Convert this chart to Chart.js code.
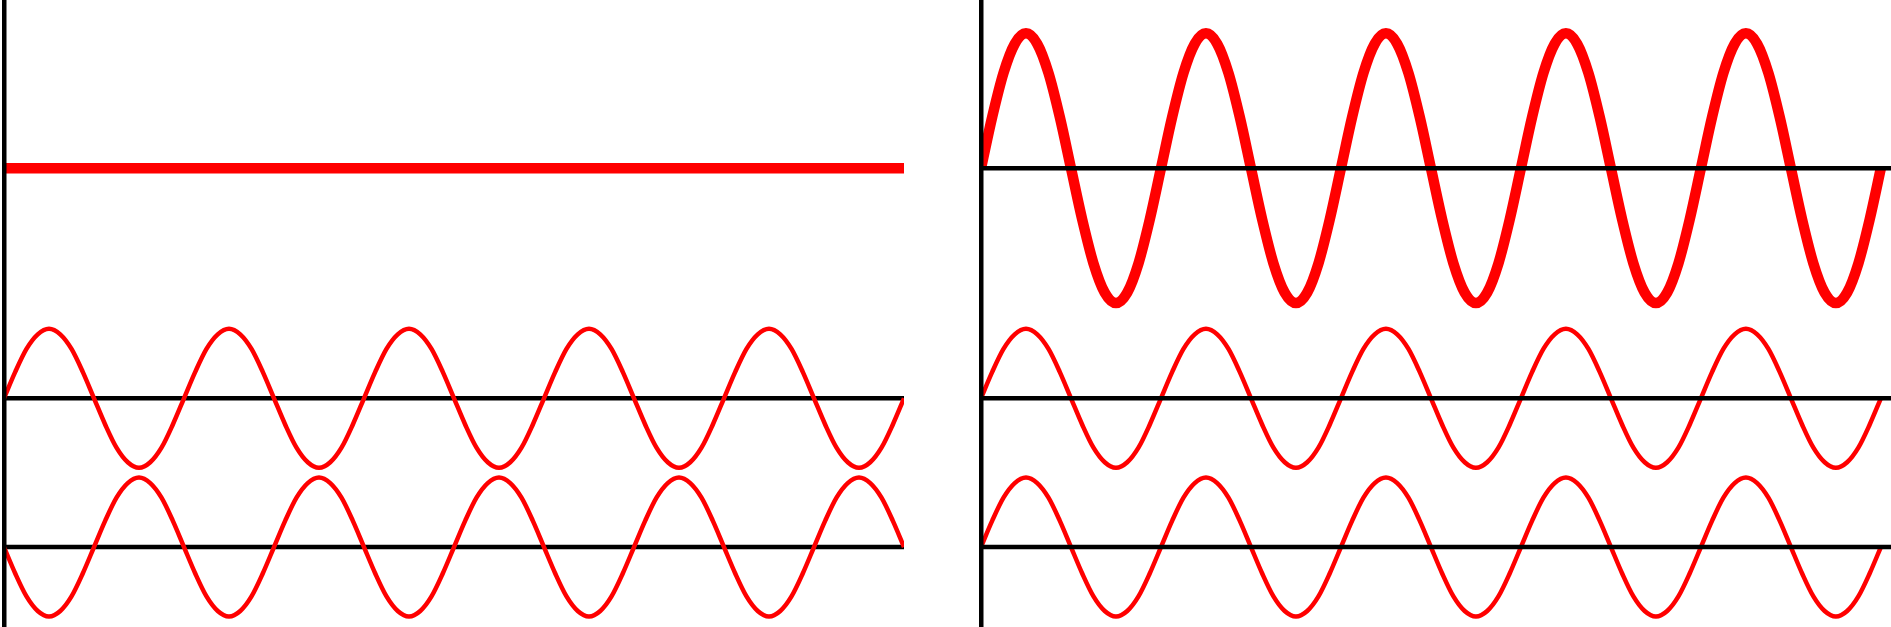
<!DOCTYPE html>
<html>
<head>
<meta charset="utf-8">
<script src="https://cdn.jsdelivr.net/npm/chart.js@4.4.1/dist/chart.umd.min.js"></script>
<style>
  html, body { margin: 0; padding: 0; background: #fff; }
  #left { position: absolute; left: 0; top: 0; }
  #right { position: absolute; left: 970px; top: 0; }
</style>
</head>
<body>
<canvas id="left" width="912" height="627"></canvas>
<canvas id="right" width="921" height="627"></canvas>
<script>
// sample positions in sixteenths of a period (5 periods)
const phase = [0, 1, 2, 3, 4, 5, 6, 7, 8, 9, 10, 11, 12, 13, 14, 15,
               16, 17, 18, 19, 20, 21, 22, 23, 24, 25, 26, 27, 28, 29, 30, 31,
               32, 33, 34, 35, 36, 37, 38, 39, 40, 41, 42, 43, 44, 45, 46, 47,
               48, 49, 50, 51, 52, 53, 54, 55, 56, 57, 58, 59, 60, 61, 62, 63,
               64, 65, 66, 67, 68, 69, 70, 71, 72, 73, 74, 75, 76, 77, 78, 79, 80];

// one wave, amplitude 1, starting upwards
const waveUp = [0, 0.38, 0.71, 0.92, 1, 0.92, 0.71, 0.38, 0, -0.38, -0.71, -0.92, -1, -0.92, -0.71, -0.38,
                0, 0.38, 0.71, 0.92, 1, 0.92, 0.71, 0.38, 0, -0.38, -0.71, -0.92, -1, -0.92, -0.71, -0.38,
                0, 0.38, 0.71, 0.92, 1, 0.92, 0.71, 0.38, 0, -0.38, -0.71, -0.92, -1, -0.92, -0.71, -0.38,
                0, 0.38, 0.71, 0.92, 1, 0.92, 0.71, 0.38, 0, -0.38, -0.71, -0.92, -1, -0.92, -0.71, -0.38,
                0, 0.38, 0.71, 0.92, 1, 0.92, 0.71, 0.38, 0, -0.38, -0.71, -0.92, -1, -0.92, -0.71, -0.38, 0];

// same wave half a period later (starts downwards)
const waveDown = [0, -0.38, -0.71, -0.92, -1, -0.92, -0.71, -0.38, 0, 0.38, 0.71, 0.92, 1, 0.92, 0.71, 0.38,
                  0, -0.38, -0.71, -0.92, -1, -0.92, -0.71, -0.38, 0, 0.38, 0.71, 0.92, 1, 0.92, 0.71, 0.38,
                  0, -0.38, -0.71, -0.92, -1, -0.92, -0.71, -0.38, 0, 0.38, 0.71, 0.92, 1, 0.92, 0.71, 0.38,
                  0, -0.38, -0.71, -0.92, -1, -0.92, -0.71, -0.38, 0, 0.38, 0.71, 0.92, 1, 0.92, 0.71, 0.38,
                  0, -0.38, -0.71, -0.92, -1, -0.92, -0.71, -0.38, 0, 0.38, 0.71, 0.92, 1, 0.92, 0.71, 0.38, 0];

// right: the two waves in phase add up
const sumRight = [0, 0.74, 1.37, 1.79, 1.94, 1.79, 1.37, 0.74, 0, -0.74, -1.37, -1.79, -1.94, -1.79, -1.37, -0.74,
                  0, 0.74, 1.37, 1.79, 1.94, 1.79, 1.37, 0.74, 0, -0.74, -1.37, -1.79, -1.94, -1.79, -1.37, -0.74,
                  0, 0.74, 1.37, 1.79, 1.94, 1.79, 1.37, 0.74, 0, -0.74, -1.37, -1.79, -1.94, -1.79, -1.37, -0.74,
                  0, 0.74, 1.37, 1.79, 1.94, 1.79, 1.37, 0.74, 0, -0.74, -1.37, -1.79, -1.94, -1.79, -1.37, -0.74,
                  0, 0.74, 1.37, 1.79, 1.94, 1.79, 1.37, 0.74, 0, -0.74, -1.37, -1.79, -1.94, -1.79, -1.37, -0.74, 0];

// left: the two waves cancel out
const flatPhase = [0, 80];
const sumLeft = [0, 0];

// baseline of each row: sum, first wave, second wave
const rows = [5.45, 2.14, 0];
const leftRule = [0, 80];
const rightRule = [0, 80.9];

const RED = '#ff0000';
const BLACK = '#000000';

function points(xs, ys, offset) {
    return xs.map((x, i) => ({ x: x, y: ys[i] + offset }));
}

function curve(xs, ys, offset, width, order) {
    return {
        data: points(xs, ys, offset),
        borderColor: RED,
        borderWidth: width,
        cubicInterpolationMode: 'monotone',
        order: order
    };
}

function rule(xs, offset, order) {
    return {
        data: points(xs, [0, 0], offset),
        borderColor: BLACK,
        borderWidth: 4.5,
        order: order
    };
}

function makeChart(id, datasets, xMax, padLeft, padRight) {
    const ctx = document.getElementById(id).getContext('2d');
    return new Chart(ctx, {
        type: 'line',
        data: { datasets: datasets },
        options: {
            responsive: false,
            animation: false,
            events: [],
            layout: { padding: { left: padLeft, right: padRight, top: 0, bottom: 0 } },
            elements: {
                point: { radius: 0 },
                line: { borderCapStyle: 'butt', fill: false }
            },
            scales: {
                x: { type: 'linear', display: false, min: 0, max: xMax },
                y: {
                    type: 'linear',
                    min: -1.15,
                    max: 7.87,
                    ticks: { display: false },
                    grid: { display: false, drawTicks: false },
                    border: { display: true, color: BLACK, width: 4.5, z: 1 }
                }
            },
            plugins: {
                legend: { display: false },
                tooltip: { enabled: false }
            }
        }
    });
}

// left panel: red drawn over the black rules
makeChart('left', [
    curve(flatPhase, sumLeft, rows[0], 10.5, 0),
    curve(phase, waveUp, rows[1], 4.5, 0),
    curve(phase, waveDown, rows[2], 4.5, 0),
    rule(leftRule, rows[1], 1),
    rule(leftRule, rows[2], 1)
], 80, 4, 8);

// right panel: black rules drawn over the red
makeChart('right', [
    curve(phase, sumRight, rows[0], 10.5, 1),
    curve(phase, waveUp, rows[1], 4.5, 1),
    curve(phase, waveUp, rows[2], 4.5, 1),
    rule(rightRule, rows[0], 0),
    rule(rightRule, rows[1], 0),
    rule(rightRule, rows[2], 0)
], 80.9, 11, 0);
</script>
</body>
</html>
